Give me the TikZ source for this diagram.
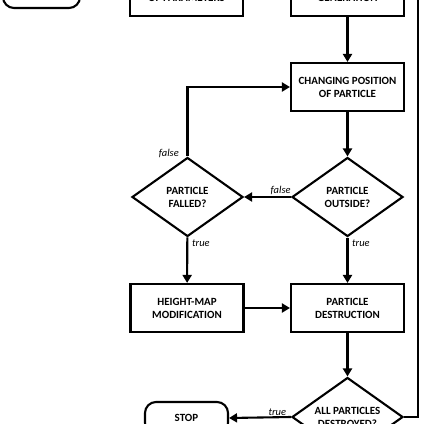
\documentclass[tikz,border=0pt]{standalone}
\usepackage{fontspec}
\setmainfont{Carlito}
\usetikzlibrary{shapes.geometric,arrows.meta}
\begin{document}
\begin{tikzpicture}[x=1pt,y=-1pt,
  every node/.style={font=\bfseries\fontsize{11}{13}\selectfont, align=center},
  procbox/.style={draw, line width=2.1pt, minimum width=113pt, minimum height=48pt, inner sep=0pt},
  termbox/.style={draw, line width=2.1pt, rounded corners=11pt, minimum width=83pt, minimum height=32pt, inner sep=0pt},
  decbox/.style={draw, diamond, line width=2.1pt, aspect=1.4, minimum width=111pt, minimum height=79pt, inner sep=0pt},
  lbl/.style={font=\itshape\fontsize{10.5}{11}\selectfont, inner sep=1pt},
  flow/.style={line width=2.1pt, -{Triangle[length=8pt,width=9pt]}},
  plain/.style={line width=2.1pt}]
\useasboundingbox (0,0) rectangle (424,424);
\clip (0,0) rectangle (424,424);
\node[termbox, minimum width=77pt] (start) at (41.5,-8) {};
\node[procbox] (params) at (186.5,-8) {};
\node (paramtxt) at (186.5,-2.5) {OF PARAMETERS};
\node[procbox] (gen) at (347.5,-8) {};
\node (gentxt) at (347.5,-2.5) {GENERATION};
\node[procbox] (change) at (347.5,87) {CHANGING POSITION\\OF PARTICLE};
\node[decbox] (outside) at (347.5,197) {PARTICLE\\OUTSIDE?};
\node[decbox] (falled) at (187.5,197) {PARTICLE\\FALLED?};
\node[procbox] (hm) at (187,308) {HEIGHT-MAP\\MODIFICATION};
\node[procbox] (destr) at (347.5,308) {PARTICLE\\DESTRUCTION};
\node[decbox] (all) at (347.5,417) {ALL PARTICLES\\DESTROYED?};
\node[termbox] (stop) at (186.5,418) {STOP};
\coordinate (corner) at (418,417);
\coordinate (topend) at (418,-20);
\draw[flow] (gen) -- (change);
\draw[flow] (change) -- (outside);
\draw[flow] (outside) -- node[lbl, above, pos=0.22] {false} (falled);
\draw[flow] (falled.north) |- (change.west);
\node[lbl, anchor=east] (f1) at (180,153) {false};
\draw[flow] (falled) -- (hm);
\node[lbl, anchor=west] (t1) at (191,243) {true};
\draw[flow] (outside) -- (destr);
\node[lbl, anchor=west] (t2) at (351,243) {true};
\draw[flow] (hm) -- (destr);
\draw[flow] (destr) -- (all);
\draw[flow] (all.west) -- node[lbl, above, pos=0.22] {true} (stop.east);
\draw[plain] (all.east) -- (corner) -- (topend);
\end{tikzpicture}
\end{document}
